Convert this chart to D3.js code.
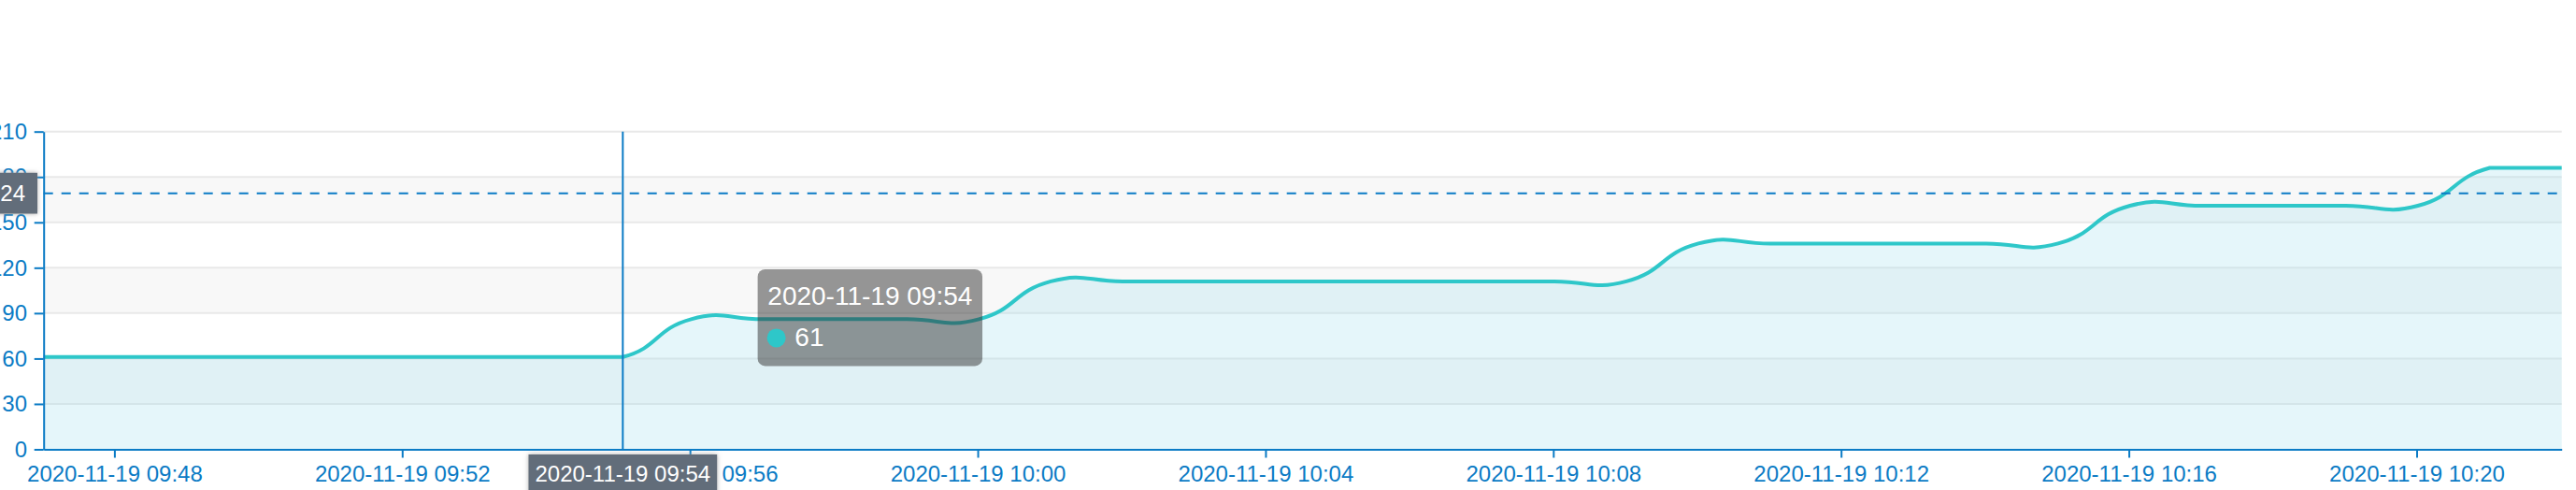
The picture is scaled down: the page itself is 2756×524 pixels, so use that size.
<!DOCTYPE html>
<html>
<head>
<meta charset="utf-8">
<script src="https://cdn.jsdelivr.net/npm/d3@7/dist/d3.min.js"></script>
<style>
  body { margin: 0; background: #fff; overflow: hidden; }
  svg { display: block; font-family: "Liberation Sans", Arial, Helvetica, sans-serif; }
</style>
</head>
<body>
<svg></svg>
<script>
var times = [
  "2020-11-19 09:47:01", "2020-11-19 09:48:01", "2020-11-19 09:49:01", "2020-11-19 09:50:01",
  "2020-11-19 09:51:01", "2020-11-19 09:52:01", "2020-11-19 09:53:01", "2020-11-19 09:54:01",
  "2020-11-19 09:55:04", "2020-11-19 09:56:01", "2020-11-19 09:57:01", "2020-11-19 09:58:01",
  "2020-11-19 09:59:01", "2020-11-19 10:00:01", "2020-11-19 10:01:01", "2020-11-19 10:02:01",
  "2020-11-19 10:03:01", "2020-11-19 10:04:01", "2020-11-19 10:05:01", "2020-11-19 10:06:01",
  "2020-11-19 10:07:01", "2020-11-19 10:08:01", "2020-11-19 10:09:01", "2020-11-19 10:10:01",
  "2020-11-19 10:11:01", "2020-11-19 10:12:01", "2020-11-19 10:13:01", "2020-11-19 10:14:01",
  "2020-11-19 10:15:01", "2020-11-19 10:16:01", "2020-11-19 10:17:01", "2020-11-19 10:18:01",
  "2020-11-19 10:19:01", "2020-11-19 10:20:01", "2020-11-19 10:21:01", "2020-11-19 10:22:01"
];
var values = [61, 61, 61, 61, 61, 61, 61, 61, 61,
              86, 86, 86, 86, 86,
              111, 111, 111, 111, 111, 111, 111, 111, 111,
              136, 136, 136, 136, 136, 136,
              161, 161, 161, 161, 161,
              186, 186];
var yTicks = [0, 30, 60, 90, 120, 150, 180, 210];

// hovered point, tooltip and pointer labels as shown
var hoverIndex = 8;
var hoverLabel = "2020-11-19 09:54";
var pointerValue = 169.24;

var width = 2756, height = 524;
var plotLeft = 46.7, plotRight = 2740.7, plotTop = 140.7, plotBottom = 480.5;
var blue = "#0b7bc5", teal = "#2ec7c9";

var parseTime = d3.timeParse("%Y-%m-%d %H:%M:%S");
var data = times.map((t, i) => ({t: parseTime(t), v: values[i]}));

var xScale = d3.scaleTime()
               .domain(d3.extent(data, d => d.t))
               .range([plotLeft, plotRight]);
var yScale = d3.scaleLinear()
               .domain([0, 210])
               .range([plotBottom, plotTop]);

// echarts 4 style smoothing (smooth 0.5, clamped to the points' bounding box)
function EchartsSmooth(context) { this._context = context; }
EchartsSmooth.prototype = {
  areaStart: function() { this._line = 0; },
  areaEnd: function() { this._line = NaN; },
  lineStart: function() { this._pts = []; },
  point: function(x, y) { this._pts.push([+x, +y]); },
  lineEnd: function() {
    var p = this._pts, n = p.length, ctx = this._context, smooth = 0.5;
    if (n) {
      if (this._line) ctx.lineTo(p[0][0], p[0][1]); else ctx.moveTo(p[0][0], p[0][1]);
      var minX = d3.min(p, d => d[0]), maxX = d3.max(p, d => d[0]);
      var minY = d3.min(p, d => d[1]), maxY = d3.max(p, d => d[1]);
      var clamp = q => [Math.max(minX, Math.min(maxX, q[0])), Math.max(minY, Math.min(maxY, q[1]))];
      var cp0 = p[0], v = [0, 0], ratio = 0.5;
      for (var i = 1; i < n; i++) {
        var cur = p[i], prev = p[i - 1], next = p[i + 1], cp1;
        if (!next) {
          cp1 = cur;
        } else {
          v = [next[0] - prev[0], next[1] - prev[1]];
          var l0 = Math.hypot(cur[0] - prev[0], cur[1] - prev[1]);
          var l1 = Math.hypot(next[0] - cur[0], next[1] - cur[1]);
          ratio = (l0 + l1) ? l1 / (l0 + l1) : 0.5;
          cp1 = [cur[0] - v[0] * smooth * (1 - ratio), cur[1] - v[1] * smooth * (1 - ratio)];
        }
        var a = clamp(cp0), b = clamp(cp1);
        ctx.bezierCurveTo(a[0], a[1], b[0], b[1], cur[0], cur[1]);
        cp0 = [cur[0] + v[0] * smooth * ratio, cur[1] + v[1] * smooth * ratio];
      }
    }
    if (this._line || (this._line !== 0 && n === 1)) ctx.closePath();
    this._line = 1 - this._line;
  }
};
var echartsSmooth = context => new EchartsSmooth(context);

var svg = d3.select("svg")
            .attr("width", width)
            .attr("height", height);

var defs = svg.append("defs");
defs.append("filter")
    .attr("id", "shadow")
    .attr("x", "-20%").attr("y", "-40%").attr("width", "140%").attr("height", "180%")
    .append("feDropShadow")
      .attr("dx", 0).attr("dy", 0)
      .attr("stdDeviation", 2.5)
      .attr("flood-color", "#999")
      .attr("flood-opacity", 0.8);

// split areas
svg.append("g")
   .selectAll("rect")
   .data(yTicks.slice(0, -1))
   .enter()
   .append("rect")
   .attr("x", plotLeft)
   .attr("y", d => yScale(d + 30))
   .attr("width", plotRight - plotLeft)
   .attr("height", d => yScale(d) - yScale(d + 30))
   .attr("fill", (d, i) => i % 2 ? "#f8f8f8" : "#ffffff");

// grid lines
svg.append("g")
   .selectAll("line")
   .data(yTicks.slice(1))
   .enter()
   .append("line")
   .attr("x1", plotLeft)
   .attr("x2", plotRight)
   .attr("y1", d => yScale(d))
   .attr("y2", d => yScale(d))
   .attr("stroke", "#e8e8e8")
   .attr("stroke-width", 2);

var area = d3.area()
             .x(d => xScale(d.t))
             .y0(yScale(0))
             .y1(d => yScale(d.v))
             .curve(echartsSmooth);
var line = d3.line()
             .x(d => xScale(d.t))
             .y(d => yScale(d.v))
             .curve(echartsSmooth);

svg.append("path")
   .datum(data)
   .attr("d", area)
   .attr("fill", "rgba(150,220,235,0.25)");

svg.append("path")
   .datum(data)
   .attr("d", line)
   .attr("fill", "none")
   .attr("stroke", teal)
   .attr("stroke-width", 4)
   .attr("stroke-linejoin", "round");

var yAxis = d3.axisLeft(yScale)
              .tickValues(yTicks)
              .tickSize(10)
              .tickSizeOuter(0)
              .tickPadding(7.7);
var yG = svg.append("g")
            .attr("transform", "translate(" + plotLeft + ",0)")
            .call(yAxis);

var xAxis = d3.axisBottom(xScale)
              .ticks(d3.timeMinute.every(4))
              .tickFormat(d3.timeFormat("%Y-%m-%d %H:%M"))
              .tickSize(9)
              .tickSizeOuter(0)
              .tickPadding(8.5);
var xG = svg.append("g")
            .attr("transform", "translate(0," + plotBottom + ")")
            .call(xAxis);

[xG, yG].forEach(g => {
  g.select(".domain").attr("stroke", blue).attr("stroke-width", 2);
  g.selectAll(".tick line").attr("stroke", blue).attr("stroke-width", 2);
  g.selectAll(".tick text")
   .attr("fill", blue)
   .style("font-size", "24px")
   .style("font-family", "'Liberation Sans', Arial, Helvetica, sans-serif");
});

// axis pointer lines
var hx = xScale(data[hoverIndex].t), hy = yScale(data[hoverIndex].v);
var py = yScale(pointerValue);

svg.append("line")
   .attr("x1", plotLeft).attr("x2", plotRight)
   .attr("y1", py).attr("y2", py)
   .attr("stroke", blue)
   .attr("stroke-width", 2)
   .attr("stroke-dasharray", "10,9");

svg.append("line")
   .attr("x1", hx).attr("x2", hx)
   .attr("y1", plotTop).attr("y2", plotBottom)
   .attr("stroke", blue)
   .attr("stroke-width", 2);

// tooltip
var tip = svg.append("g")
             .attr("transform", "translate(" + (hx + 144.3) + "," + (hy - 93.8) + ")");
var tipBox = tip.append("rect")
                .attr("height", 103.4)
                .attr("rx", 8)
                .attr("fill", "rgba(50,50,50,0.5)");
var tipTitle = tip.append("text")
                  .attr("x", 10.7)
                  .attr("y", 38.4)
                  .attr("fill", "#fff")
                  .style("font-size", "28px")
                  .text(hoverLabel);
tip.append("circle")
   .attr("cx", 20)
   .attr("cy", 73.4)
   .attr("r", 10)
   .attr("fill", teal);
tip.append("text")
   .attr("x", 39.7)
   .attr("y", 82)
   .attr("fill", "#fff")
   .style("font-size", "28px")
   .text(data[hoverIndex].v);
tipBox.attr("width", tipTitle.node().getComputedTextLength() + 21.4);

// x pointer label
var xl = svg.append("g");
var xlBox = xl.append("rect")
              .attr("y", plotBottom + 5.5)
              .attr("height", 44)
              .attr("fill", "#626d7a")
              .attr("filter", "url(#shadow)");
var xlText = xl.append("text")
               .attr("x", hx)
               .attr("y", 515)
               .attr("text-anchor", "middle")
               .attr("fill", "#fff")
               .style("font-size", "24px")
               .text(hoverLabel);
var xlw = xlText.node().getComputedTextLength() + 14;
xlBox.attr("x", hx - xlw / 2).attr("width", xlw);

// y pointer label
var yl = svg.append("g");
var ylText = yl.append("text")
               .attr("x", plotLeft - 19.7)
               .attr("y", py)
               .attr("dy", "0.35em")
               .attr("text-anchor", "end")
               .attr("fill", "#fff")
               .style("font-size", "24px")
               .text(pointerValue.toFixed(2));
var ylw = ylText.node().getComputedTextLength() + 28;
yl.insert("rect", "text")
  .attr("x", plotLeft - 6.7 - ylw)
  .attr("y", py - 21.85)
  .attr("width", ylw)
  .attr("height", 43.7)
  .attr("fill", "#626d7a")
  .attr("filter", "url(#shadow)");
</script>
</body>
</html>
